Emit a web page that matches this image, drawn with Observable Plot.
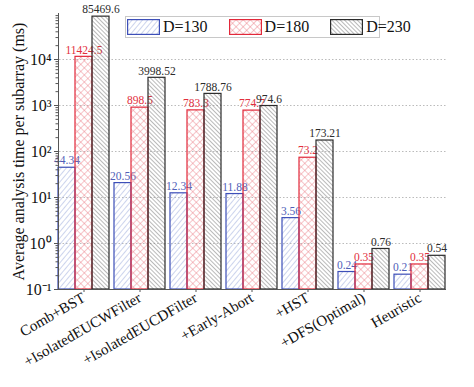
<!DOCTYPE html>
<html><head><meta charset="utf-8">
<script src="https://cdn.jsdelivr.net/npm/d3@7"></script>
<script src="https://cdn.jsdelivr.net/npm/@observablehq/plot@0.6"></script>
<style>
body{margin:0;background:#fff;}
#wrap{position:relative;width:474px;height:387px;font-family:"Liberation Serif","Times New Roman",serif;}
#legend{position:absolute;left:125px;top:16px;width:255px;height:22px;border:1px solid #c8c8c8;background:#fff;display:flex;align-items:center;font-size:16px;box-sizing:border-box;color:#111}
#legend .item{display:flex;align-items:center;margin-left:1px;margin-right:4px}
#legend svg{margin-right:3px}
</style></head><body>
<svg width="0" height="0" style="position:absolute">
<defs>
<pattern id="p130" patternUnits="userSpaceOnUse" width="4" height="4" patternTransform="rotate(40)">
<line x1="0" y1="-2" x2="0" y2="6" stroke="#8f9fd8" stroke-width="0.9"/>
</pattern>
<pattern id="p180" patternUnits="userSpaceOnUse" width="5" height="5" patternTransform="rotate(45)">
<line x1="0" y1="-2" x2="0" y2="7" stroke="#ec7e88" stroke-width="0.9"/>
<line x1="-2" y1="0" x2="7" y2="0" stroke="#ec7e88" stroke-width="0.9"/>
</pattern>
<pattern id="p230" patternUnits="userSpaceOnUse" width="3" height="3" patternTransform="rotate(-45)">
<line x1="0" y1="-2" x2="0" y2="5" stroke="#666" stroke-width="0.9"/>
</pattern>
</defs>
</svg>
<div id="wrap"><div id="chart"></div><div id="legend"></div></div>
<script>
const categories = ["Comb+BST", "+IsolatedEUCWFilter", "+IsolatedEUCDFilter", "+Early-Abort", "+HST", "+DFS(Optimal)", "Heuristic"];
const seriesNames = ["D=130", "D=180", "D=230"];
const d130 = [44.34, 20.56, 12.34, 11.88, 3.56, 0.24, 0.21];
const d180 = [11424.5, 898.5, 783.3, 774.7, 73.2, 0.35, 0.35];
const d230 = [85469.6, 3998.52, 1788.76, 974.6, 173.21, 0.76, 0.54];
const yDomain = [0.1, 100000];
const majorTicks = [0.1, 1, 10, 100, 1000, 10000];
const majorTickLabels = ["10⁻¹", "10⁰", "10¹", "10²", "10³", "10⁴"];
const gridTicks = [1, 10, 100, 1000, 10000];
const yLabel = "Average analysis time per subarray (ms)";

const seriesValues = [d130, d180, d230];
const fills = ["url(#p130)", "url(#p180)", "url(#p230)"];
const strokes = ["#3d4fb8", "#e2283a", "#2b2b2b"];
const labelColors = ["#5060b8", "#e2303e", "#2b2b2b"];

const minorTicks = [];
for (let e = -1; e < 5; e++) for (let m = 2; m <= 9; m++) minorTicks.push(m * Math.pow(10, e));

const serif = "Liberation Serif, Times New Roman, serif";

const seriesMarks = [];
seriesNames.forEach((name, si) => {
  const rows = categories.map((c, i) => ({cat: c, series: name, value: seriesValues[si][i]}));
  seriesMarks.push(
    Plot.barY(rows, {fx: "cat", x: "series", y1: () => yDomain[0], y2: "value",
      fill: fills[si], stroke: strokes[si], strokeWidth: 1.2}),
    Plot.text(rows, {fx: "cat", x: "series", y: "value", text: d => String(d.value),
      fill: labelColors[si], fontSize: 11.5, fontFamily: serif, dy: -7})
  );
});

const chart = Plot.plot({
  width: 474,
  height: 387,
  marginTop: 13,
  marginLeft: 55,
  marginRight: 26,
  marginBottom: 98,
  style: {fontFamily: serif, background: "#fff", color: "#111"},
  fx: {domain: categories, paddingInner: 0.09, paddingOuter: 0.02, label: null},
  x: {domain: seriesNames, padding: 0, axis: null},
  y: {type: "log", domain: yDomain, axis: null},
  marks: [
    Plot.ruleY(gridTicks, {stroke: "#bbb", strokeDasharray: "1.5,2", insetLeft: -2.5, insetRight: -2.5}),
    ...seriesMarks,
    Plot.axisY({ticks: minorTicks, tickFormat: () => "", tickSize: 2.5, stroke: "#555", label: null}),
    Plot.axisY({ticks: majorTicks, tickFormat: (d) => majorTickLabels[majorTicks.indexOf(d)],
      tickSize: 4, tickPadding: 3, fontSize: 16, stroke: "#555",
      label: yLabel, labelAnchor: "center", labelArrow: "none", labelOffset: 46}),
    Plot.axisFx({anchor: "bottom", tickRotate: -30, textAnchor: "end", fontSize: 15, tickSize: 3, tickPadding: 4, label: null, stroke: "#555"}),
    Plot.frame({anchor: "left", facet: "super", stroke: "#555"}),
    Plot.frame({anchor: "bottom", facet: "super", stroke: "#555"})
  ]
});
document.getElementById("chart").appendChild(chart);

// legend
const legend = d3.select("#legend");
seriesNames.forEach((name, si) => {
  const item = legend.append("div").attr("class", "item");
  const sv = item.append("svg").attr("width", 33).attr("height", 16);
  sv.append("rect").attr("x", 0.6).attr("y", 0.6).attr("width", 31.8).attr("height", 14.8)
    .attr("fill", fills[si]).attr("stroke", strokes[si]).attr("stroke-width", 1.2);
  item.append("span").text(name).style("margin-right", si < 2 ? "16px" : "0");
});
</script>
</body></html>
